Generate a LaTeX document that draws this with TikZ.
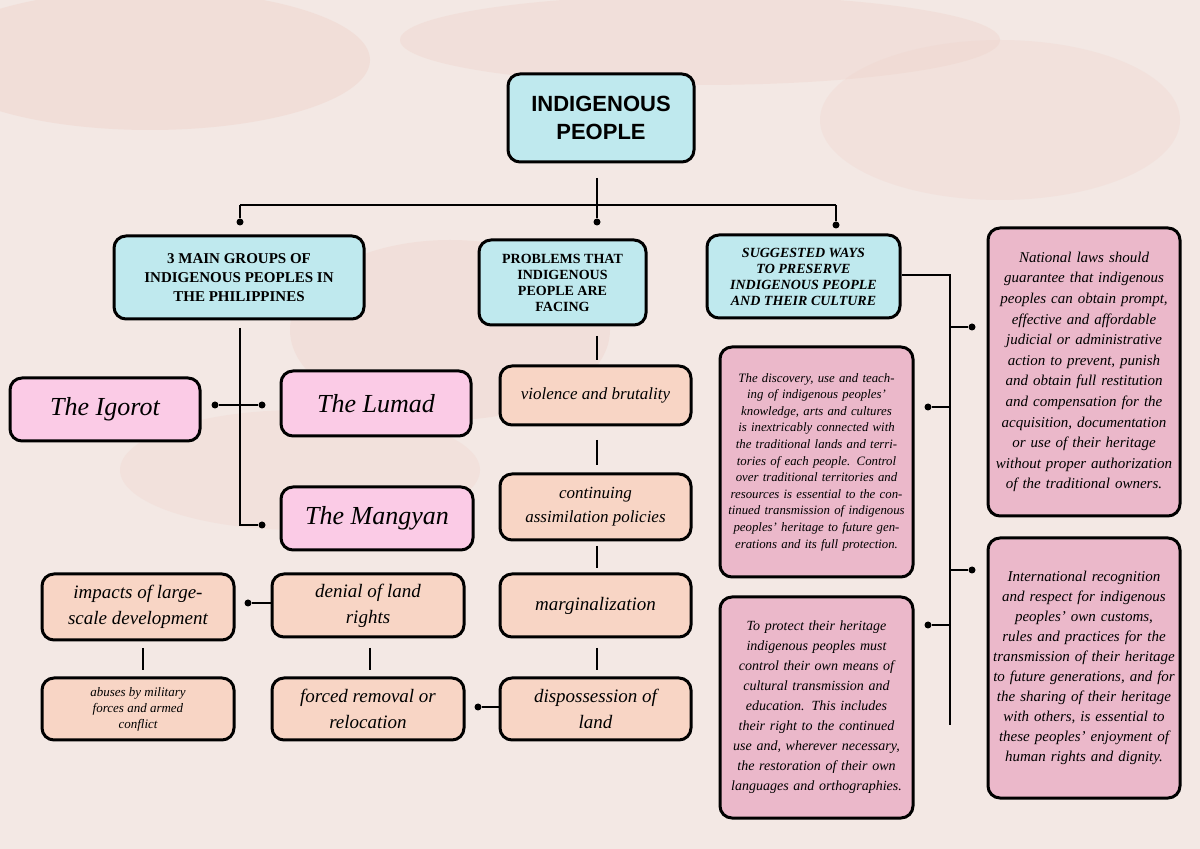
\documentclass[tikz,border=0pt]{standalone}
\usepackage{fontspec}
\setmainfont{Liberation Serif}
\newfontfamily\hsans{Liberation Sans}
\begin{document}
\begin{tikzpicture}[x=0.5pt,y=-0.5pt,
 box/.style={draw=black,line width=1.5pt,rounded corners=6pt,align=center,inner sep=1pt},
 cyanb/.style={box,fill=cyanc},
 pinkb/.style={box,fill=pinkc},
 peachb/.style={box,fill=peachc},
 roseb/.style={box,fill=rosec},
 ln/.style={line width=0.9pt},
 dot/.style={circle,fill=black,inner sep=0pt,minimum size=3.5pt}]
\definecolor{cyanc}{HTML}{BFE9EE}
\definecolor{pinkc}{HTML}{FBCBE6}
\definecolor{peachc}{HTML}{F8D5C5}
\definecolor{rosec}{HTML}{EBB8CA}
\definecolor{bgc}{HTML}{F3E8E4}
\definecolor{blot}{HTML}{F0D3CB}
\fill[bgc] (0,0) rectangle (1200,849);
\useasboundingbox (0,0) rectangle (1200,849);
\fill[blot,opacity=0.45] (150,60) ellipse (220 and 70);
\fill[blot,opacity=0.4] (700,40) ellipse (300 and 45);
\fill[blot,opacity=0.4] (450,330) ellipse (160 and 90);
\fill[blot,opacity=0.3] (1000,120) ellipse (180 and 80);
\fill[blot,opacity=0.3] (300,470) ellipse (180 and 60);

\node[cyanb,minimum width=93pt,minimum height=44pt,font=\hsans\bfseries\fontsize{11}{14}\selectfont] (ip) at (601,118) {INDIGENOUS\\PEOPLE};
\node[cyanb,minimum width=125pt,minimum height=41.5pt,font=\bfseries\fontsize{7.5}{9.5}\selectfont] (grp) at (239,277.5) {3 MAIN GROUPS OF\\INDIGENOUS PEOPLES IN\\THE PHILIPPINES};
\node[cyanb,minimum width=83.5pt,minimum height=42.5pt,font=\bfseries\fontsize{7}{8}\selectfont] (prob) at (562.5,282.5) {PROBLEMS THAT\\INDIGENOUS\\PEOPLE ARE\\FACING};
\node[cyanb,minimum width=96.5pt,minimum height=41.5pt,font=\bfseries\itshape\fontsize{7}{8}\selectfont] (sug) at (803.5,276.5) {SUGGESTED WAYS\\TO PRESERVE\\INDIGENOUS PEOPLE\\AND THEIR CULTURE};

\node[pinkb,minimum width=95pt,minimum height=31.5pt,font=\itshape\fontsize{13}{15}\selectfont] (igo) at (105,409.5) {The Igorot};
\node[pinkb,minimum width=95pt,minimum height=32.5pt,font=\itshape\fontsize{13}{15}\selectfont] (lum) at (376,403.5) {The Lumad};
\node[pinkb,minimum width=96pt,minimum height=31.5pt,font=\itshape\fontsize{13}{15}\selectfont] (man) at (377,518.5) {The Mangyan};

\node[peachb,minimum width=95.5pt,minimum height=29.5pt,font=\itshape\fontsize{8.5}{10}\selectfont] (vio) at (595.5,395.5) {violence and brutality};
\node[peachb,minimum width=95.5pt,minimum height=33pt,font=\itshape\fontsize{8.5}{12}\selectfont] (con) at (595.5,507) {continuing\\assimilation policies};
\node[peachb,minimum width=95.5pt,minimum height=31.5pt,font=\itshape\fontsize{9.5}{11}\selectfont] (mar) at (595.5,605.5) {marginalization};
\node[peachb,minimum width=95.5pt,minimum height=31pt,font=\itshape\fontsize{9.5}{13}\selectfont] (dis) at (595.5,709) {dispossession of\\land};
\node[peachb,minimum width=96pt,minimum height=31.5pt,font=\itshape\fontsize{9.5}{13}\selectfont] (den) at (368,605.5) {denial of land\\rights};
\node[peachb,minimum width=96pt,minimum height=31pt,font=\itshape\fontsize{9.5}{13}\selectfont] (for) at (368,709) {forced removal or\\relocation};
\node[peachb,minimum width=96pt,minimum height=33pt,font=\itshape\fontsize{9.5}{13}\selectfont] (imp) at (138,607) {impacts of large-\\scale development};
\node[peachb,minimum width=96pt,minimum height=31pt,font=\itshape\fontsize{6.5}{8}\selectfont] (abu) at (138,709) {abuses by military\\forces and armed\\conflict};

\node[roseb,minimum width=96.5pt,minimum height=115pt,text width=90pt,font=\itshape\fontsize{6.4}{8.3}\selectfont] (dsc) at (816.5,462) {The discovery, use and teaching of indigenous peoples' knowledge, arts and cultures is inextricably connected with the traditional lands and territories of each people. Control over traditional territories and resources is essential to the continued transmission of indigenous peoples' heritage to future generations and its full protection.};
\node[roseb,minimum width=96.5pt,minimum height=110.5pt,text width=88pt,font=\itshape\fontsize{7}{10}\selectfont] (pro) at (816.5,707.5) {To protect their heritage indigenous peoples must control their own means of cultural transmission and education. This includes their right to the continued use and, wherever necessary, the restoration of their own languages and orthographies.};
\node[roseb,minimum width=96pt,minimum height=144pt,text width=90pt,font=\itshape\fontsize{7.5}{10.3}\selectfont] (nat) at (1084,372) {National laws should guarantee that indigenous peoples can obtain prompt, effective and affordable judicial or administrative action to prevent, punish and obtain full restitution and compensation for the acquisition, documentation or use of their heritage without proper authorization of the traditional owners.};
\node[roseb,minimum width=96pt,minimum height=130pt,text width=92pt,font=\itshape\fontsize{7.5}{10}\selectfont] (int) at (1084,668) {International recognition and respect for indigenous peoples' own customs, rules and practices for the transmission of their heritage to future generations, and for the sharing of their heritage with others, is essential to these peoples' enjoyment of human rights and dignity.};

% top tree
\coordinate (t0) at (597,178);
\coordinate (tj) at (597,205);
\coordinate (tl) at (240,205);
\coordinate (tr) at (836,205);
\node[dot] (d1) at (240,222) {};
\node[dot] (d2) at (597,222) {};
\node[dot] (d3) at (836,225) {};
\draw[ln] (t0) -- (tj) (tl) -- (tr) (tl) -- (d1) (tj) -- (d2) (tr) -- (d3);

% groups
\coordinate (g0) at (240,328);
\coordinate (g1) at (240,405);
\coordinate (g2) at (240,525);
\node[dot] (gi) at (215,405) {};
\node[dot] (gl) at (262,405) {};
\node[dot] (gm) at (262,525) {};
\draw[ln] (g0) -- (g2) -- (gm) (gi) -- (gl);

% problems column
\foreach \a/\b in {336/360,440/465,546/568,648/670}{
  \draw[ln] (597,\a) -- (597,\b);}
\foreach \a/\b in {648/670}{
  \draw[ln] (370,\a) -- (370,\b); \draw[ln] (143,\a) -- (143,\b);}
\node[dot] (dd) at (478,707) {};
\draw[ln] (dd) -- (dis.west |- dd);
\node[dot] (de) at (248,603) {};
\draw[ln] (de) -- (den.west |- de);

% suggestions
\coordinate (s0) at (950,275);
\coordinate (s1) at (950,725);
\node[dot] (sn) at (972,327) {};
\node[dot] (sd) at (928,407) {};
\node[dot] (si) at (972,570) {};
\node[dot] (sp) at (928,625) {};
\draw[ln] (sug.east |- s0) -- (s0) -- (s1);
\draw[ln] (950,327) -- (sn) (950,407) -- (sd) (950,570) -- (si) (950,625) -- (sp);
\end{tikzpicture}
\end{document}
